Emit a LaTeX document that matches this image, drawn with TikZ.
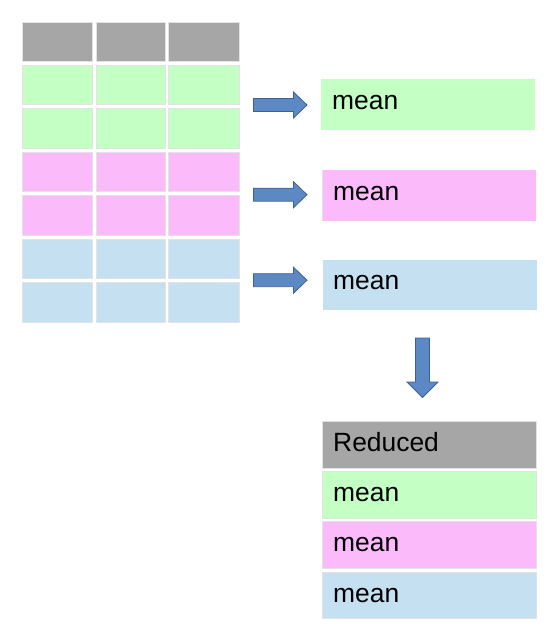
\documentclass[tikz,border=0pt]{standalone}
\usepackage{fontspec}
\setmainfont{Liberation Sans}
\definecolor{hdr}{HTML}{A6A6A6}
\definecolor{grn}{HTML}{C4FFC4}
\definecolor{pnk}{HTML}{FBBBFB}
\definecolor{blu}{HTML}{C5E0F1}
\definecolor{arrfill}{HTML}{5C89C4}
\definecolor{arrline}{HTML}{3E6195}
\definecolor{cellline}{HTML}{E3E3E3}
\tikzset{
  cell/.style={draw=cellline, line width=0.8bp, inner sep=0pt, outer sep=0pt},
  meanbox/.style={inner sep=0pt, outer sep=0pt},
  lbl/.style={font=\fontsize{26.5}{30}\selectfont, anchor=west, inner sep=0pt},
  blockarrow/.style={fill=arrfill, draw=arrline, line width=0.8bp, line join=miter}
}
\begin{document}
\begin{tikzpicture}[x=1bp,y=-1bp]
\useasboundingbox (0,0) rectangle (560,641);
% source table
\foreach \c/\xa/\xb in {1/22.5/92.5, 2/96/165, 3/168.5/239}{
  \foreach \r/\ya/\yb/\col in {0/22/61.5/hdr, 1/65/104.5/grn, 2/108/148/grn, 3/152/191.5/pnk, 4/195/235/pnk, 5/239/278.5/blu, 6/282.5/322.5/blu}{
    \path[cell, fill=\col] (\xa,\ya) rectangle (\xb,\yb);
  }
}
% mean boxes
\path[fill=grn] (321,79.5) rectangle (535,130);
\node[lbl] (m1) at (332,103) {mean};
\path[fill=pnk] (322.5,170) rectangle (536,220.5);
\draw[cellline, line width=0.6bp] (322.5,170) -- (322.5,220.5);
\node[lbl] (m2) at (333,193.5) {mean};
\path[fill=blu] (323,260) rectangle (537,310);
\node[lbl] (m3) at (333,282.5) {mean};
% right arrows
\foreach \yc/\n in {105/a1, 194.7/a2, 280.2/a3}{
  \draw[blockarrow] (253.5,\yc-6.5) -- (293.5,\yc-6.5) -- (293.5,\yc-13) -- (307,\yc) -- (293.5,\yc+13) -- (293.5,\yc+6.5) -- (253.5,\yc+6.5) -- cycle;
}
% down arrow
\draw[blockarrow] (415.5,338) -- (429.5,338) -- (429.5,382) -- (438,382) -- (422.5,397.5) -- (407,382) -- (415.5,382) -- cycle;
% reduced table
\path[cell, fill=hdr] (322,421) rectangle (536,468);
\node[lbl] (r0) at (333,442.5) {Reduced};
\path[cell, fill=grn] (322,471.5) rectangle (536,518);
\node[lbl] (r1) at (333,494.5) {mean};
\path[cell, fill=pnk] (322,521.5) rectangle (536,568.5);
\node[lbl] (r2) at (333,545) {mean};
\path[cell, fill=blu] (322,572) rectangle (536,618.5);
\node[lbl] (r3) at (333,595.5) {mean};
\end{tikzpicture}
\end{document}
